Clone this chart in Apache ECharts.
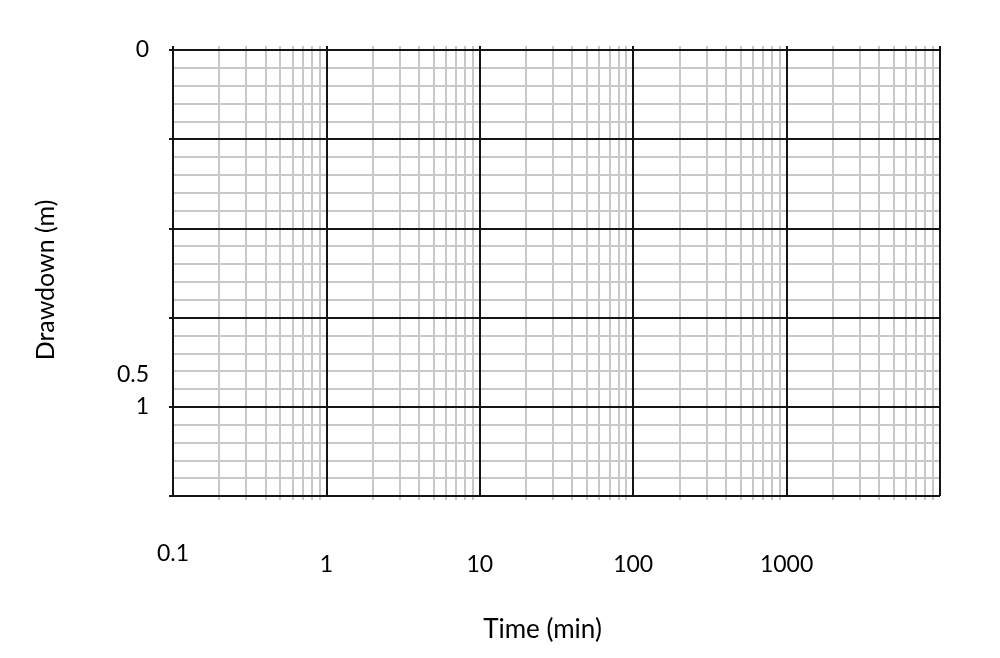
<!DOCTYPE html>
<html>
<head>
<meta charset="utf-8">
<script src="https://cdn.jsdelivr.net/npm/echarts@6/dist/echarts.min.js"></script>
<style>
html,body{margin:0;padding:0;background:#fff;}
#c{width:1000px;height:658px;}
</style>
</head>
<body>
<div id="c"></div>
<script>
// Axis ranges
const xMin = 0.1, xMax = 10000;
const yMin = 0, yMax = 5;
// Tick labels
const xTickValues = [1, 10, 100, 1000];
const xTickLabels = ['1', '10', '100', '1000'];
const xFirstValue = [0.1];
const xFirstLabel = ['0.1'];
const yTickValues = [0, 3.64, 4];
const yTickLabels = ['0', '0.5', '1'];
// Grid line positions
const xMajorLines = [0.1, 1, 10, 100, 1000, 10000];
const xMinorLines = [
  0.2,0.3,0.4,0.5,0.6,0.7,0.8,0.9,
  2,3,4,5,6,7,8,9,
  20,30,40,50,60,70,80,90,
  200,300,400,500,600,700,800,900,
  2000,3000,4000,5000,6000,7000,8000,9000
];
const yMajorLines = [0, 1, 2, 3, 4, 5];
const xTitle = 'Time (min)';
const yTitle = 'Drawdown (m)';

const FONT = 'Lato';
const BLACK = '#141414';
const GRAY = '#c8c8c8';
const chart = echarts.init(document.getElementById('c'), null, {renderer: 'canvas'});

function lbl(values, labels) {
  return function (v) {
    for (let i = 0; i < values.length; i++) {
      if (Math.abs(values[i] - v) < 1e-6 * Math.max(1, Math.abs(v))) return labels[i];
    }
    return '';
  };
}

function tickAxis(position, values, color, labelCfg) {
  return {
    type: 'log', logBase: 10, min: xMin, max: xMax, position: position,
    axisLine: {show: false},
    axisTick: {show: true, customValues: values, length: 4, lineStyle: {color: color, width: 2}},
    splitLine: {show: false},
    axisLabel: labelCfg || {show: false}
  };
}

const mainX = tickAxis('bottom', xMajorLines, BLACK, {
  customValues: xTickValues, formatter: lbl(xTickValues, xTickLabels),
  margin: 57, color: '#000', fontFamily: FONT, fontSize: 23
});
mainX.name = xTitle;
mainX.nameLocation = 'middle';
mainX.nameGap = 121;
mainX.nameTextStyle = {color: '#000', fontFamily: FONT, fontSize: 26, padding: [0, 28, 0, 0]};

const option = {
  animation: false,
  backgroundColor: '#fff',
  grid: {left: 173, right: 60, top: 50, bottom: 162, containLabel: false},
  xAxis: [
    mainX,
    tickAxis('bottom', xMinorLines, GRAY, {
      customValues: xFirstValue, formatter: lbl(xFirstValue, xFirstLabel),
      margin: 46, color: '#000', fontFamily: FONT, fontSize: 23
    }),
    tickAxis('top', xMajorLines, BLACK),
    tickAxis('top', xMinorLines, GRAY)
  ],
  yAxis: {
    type: 'value', inverse: true, min: yMin, max: yMax, interval: 1,
    axisLine: {show: false},
    axisTick: {show: true, customValues: yMajorLines, length: 4, lineStyle: {color: BLACK, width: 2}},
    minorTick: {show: false, splitNumber: 5},
    splitLine: {show: false},
    minorSplitLine: {show: true, lineStyle: {color: GRAY, width: 2}},
    axisLabel: {
      customValues: yTickValues, formatter: lbl(yTickValues, yTickLabels),
      margin: 24, color: '#000', fontFamily: FONT, fontSize: 23
    },
    name: yTitle, nameLocation: 'middle', nameGap: 115, nameRotate: 90,
    nameTextStyle: {color: '#000', fontFamily: FONT, fontSize: 25, padding: [0, 14, 0, 0]}
  },
  series: [
    {
      type: 'line', xAxisIndex: 0, yAxisIndex: 0, data: [], silent: true, z: 1,
      markLine: {
        silent: true, symbol: 'none', animation: false, z: 1,
        label: {show: false},
        lineStyle: {type: 'solid', color: GRAY, width: 2},
        data: xMinorLines.map(v => ({xAxis: v}))
      }
    },
    {
      type: 'line', xAxisIndex: 0, yAxisIndex: 0, data: [], silent: true, z: 2,
      markLine: {
        silent: true, symbol: 'none', animation: false, z: 2,
        label: {show: false},
        lineStyle: {type: 'solid', color: BLACK, width: 2},
        data: xMajorLines.map(v => ({xAxis: v})).concat(yMajorLines.map(v => ({yAxis: v})))
      }
    }
  ]
};
chart.setOption(option);
</script>
</body>
</html>
